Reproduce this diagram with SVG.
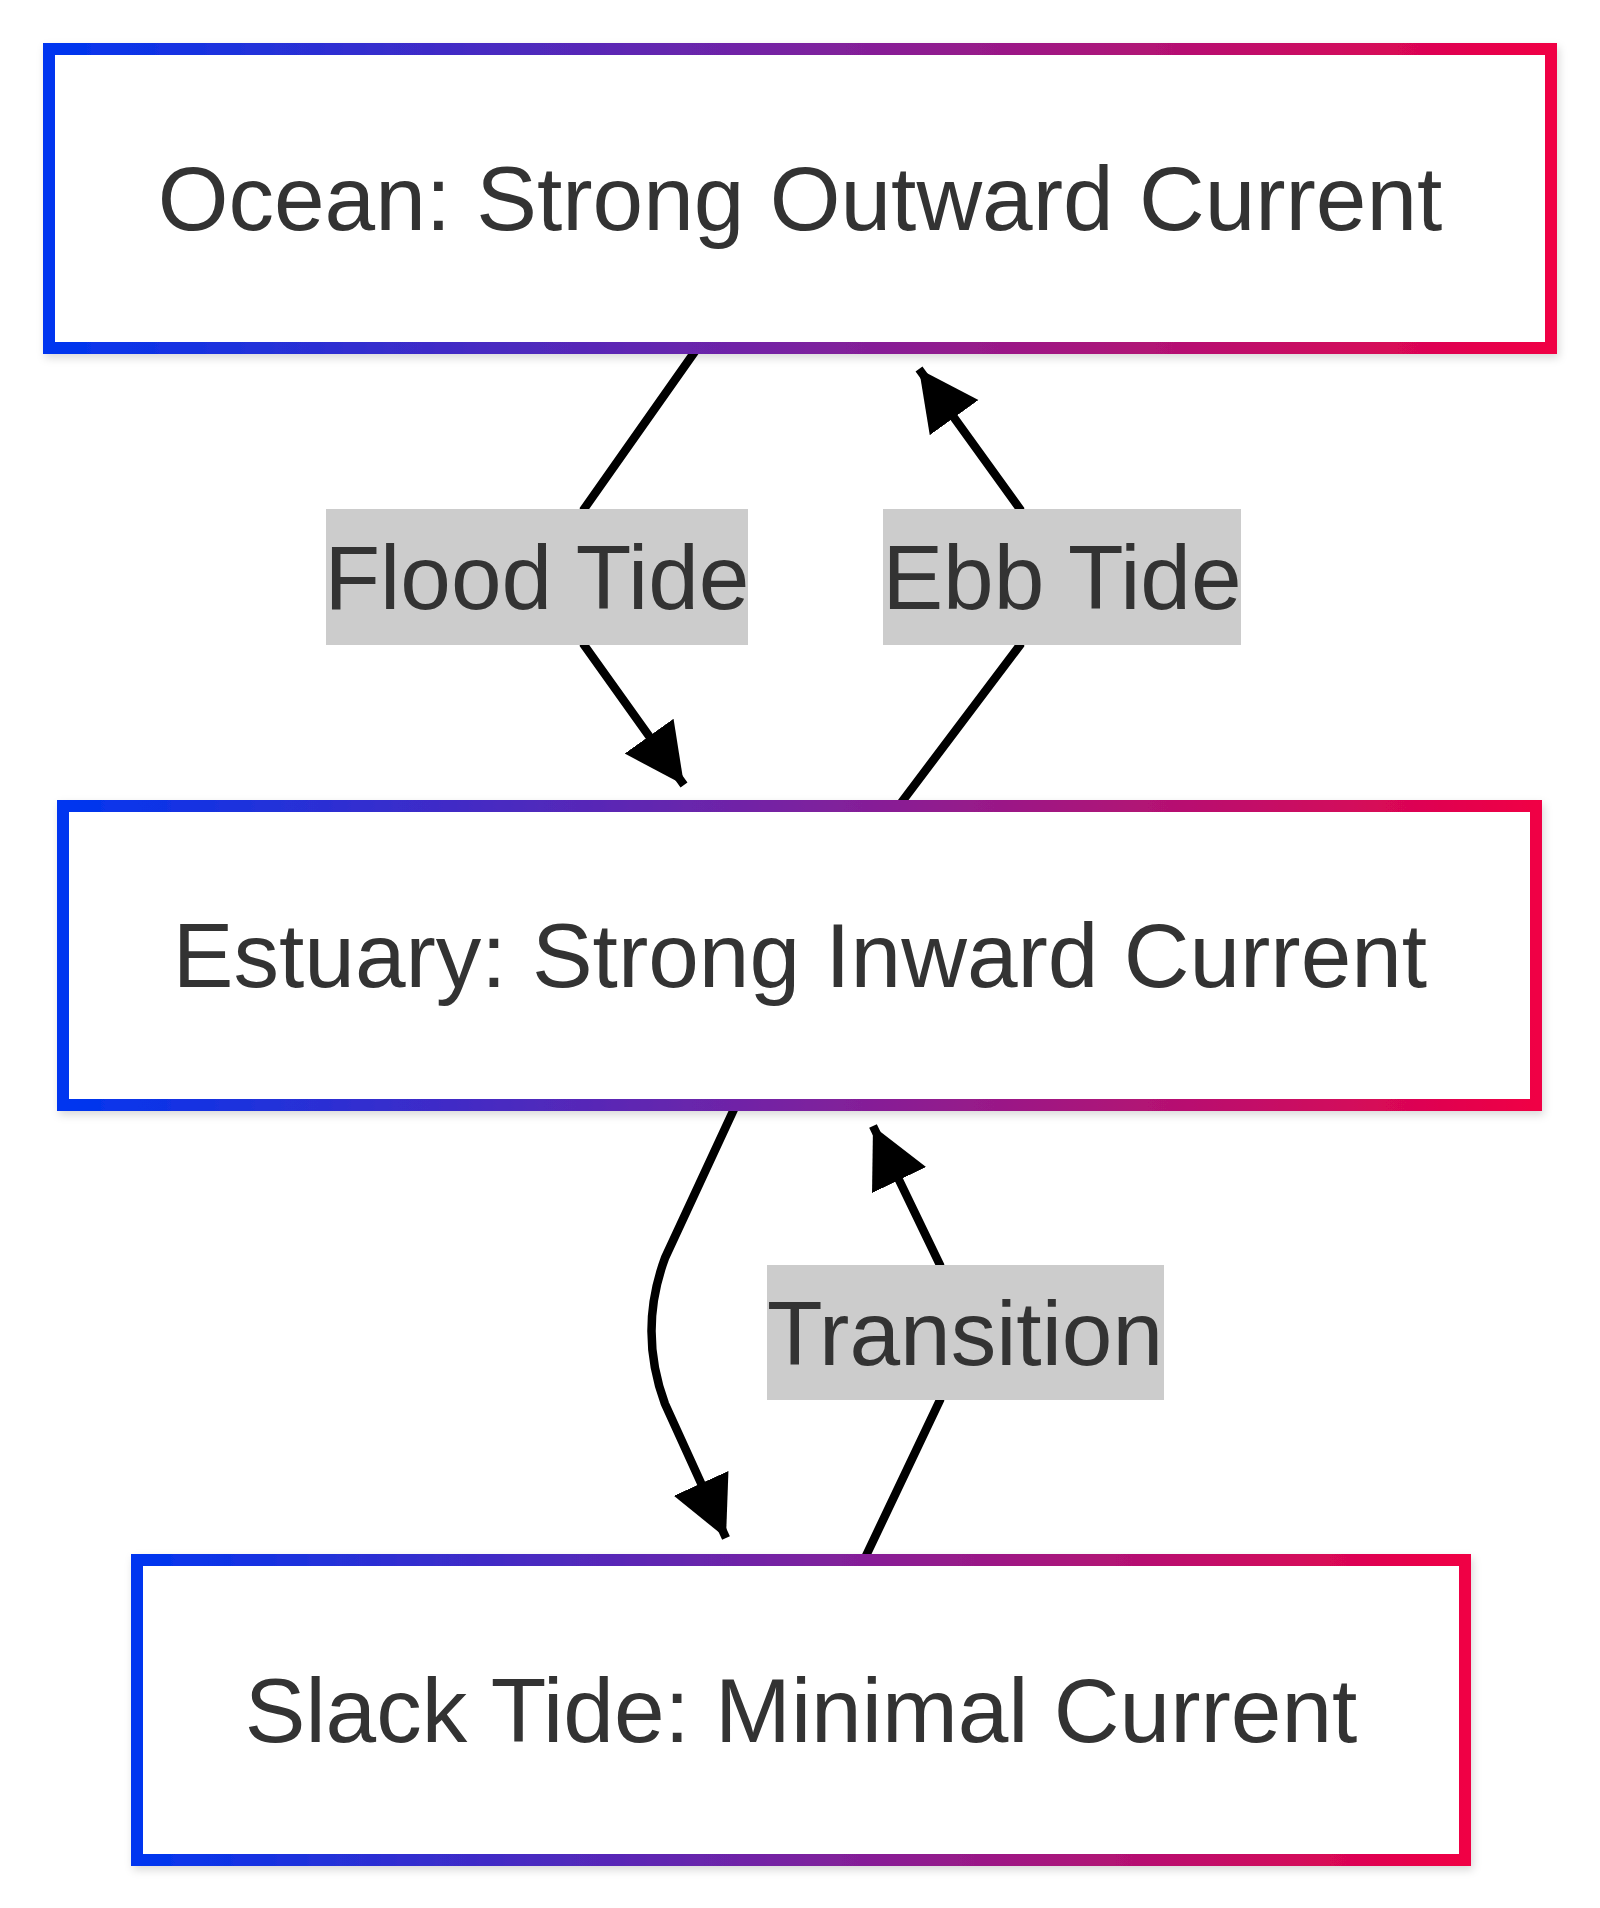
<svg xmlns="http://www.w3.org/2000/svg" width="1600" height="1908" viewBox="0 0 1600 1908">
<style>
.box{fill:#fff;stroke:url(#g);stroke-width:12}
.t{font-family:"Liberation Sans",Arial,sans-serif;font-size:91px;fill:#333;text-anchor:middle}
.e{fill:none;stroke:#000;stroke-width:8.5}
.lb{fill:#ccc}
</style>
<defs>
<linearGradient id="g" x1="0" y1="0" x2="1" y2="0"><stop offset="0" stop-color="#0036f0"/><stop offset="0.5" stop-color="#7a22a0"/><stop offset="1" stop-color="#f00044"/></linearGradient>
<marker id="a" markerUnits="userSpaceOnUse" markerWidth="70" markerHeight="70" refX="60" refY="30" orient="auto"><path d="M0,0L60,30L0,60Z" fill="#000"/></marker>
<filter id="s" x="-5%" y="-5%" width="110%" height="115%"><feDropShadow dx="2" dy="4" stdDeviation="4" flood-color="#000" flood-opacity="0.15"/></filter>
</defs>
<g id="edges">
<path class="e" d="M696,350L584,509L584,645L684,785" marker-end="url(#a)"/>
<path class="e" d="M901,803L1020,645L1020,509L919,369" marker-end="url(#a)"/>
<path class="e" d="M735,1107L665,1258Q638,1331 665,1404L726,1538" marker-end="url(#a)"/>
<path class="e" d="M864,1560L940,1400L940,1265L873,1126" marker-end="url(#a)"/>
</g>
<g id="labels">
<rect class="lb" x="326" y="509" width="422" height="136"/><text class="t" x="537" y="609">Flood Tide</text>
<rect class="lb" x="883" y="509" width="358" height="136"/><text class="t" x="1062" y="609">Ebb Tide</text>
<rect class="lb" x="767" y="1265" width="397" height="135"/><text class="t" x="965" y="1365">Transition</text>
</g>
<g id="ocean"><rect class="box" filter="url(#s)" x="49" y="49" width="1502" height="299"/><text class="t" x="800" y="230">Ocean: Strong Outward Current</text></g>
<g id="estuary"><rect class="box" filter="url(#s)" x="63" y="806" width="1473" height="299"/><text class="t" x="800" y="987">Estuary: Strong Inward Current</text></g>
<g id="slack"><rect class="box" filter="url(#s)" x="137" y="1560" width="1328" height="300"/><text class="t" x="801" y="1742">Slack Tide: Minimal Current</text></g>
</svg>
